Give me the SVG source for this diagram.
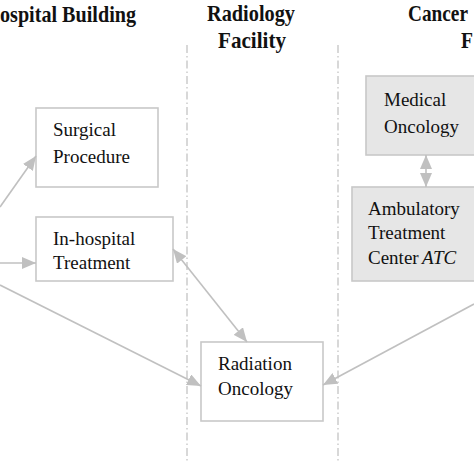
<svg xmlns="http://www.w3.org/2000/svg" width="474" height="474" viewBox="0 0 474 474">
<style>
.hdr{font-family:"Liberation Serif","Times New Roman",serif;font-weight:bold;font-size:23px;fill:#111}
.lbl{font-family:"Liberation Serif","Times New Roman",serif;font-size:19px;fill:#111}
.box{fill:#fff;stroke:#c8c8c8;stroke-width:1.6}
.gbox{fill:#e6e6e6;stroke:#c8c8c8;stroke-width:1.6}
.div{stroke:#c4c4c4;stroke-width:1.3;stroke-dasharray:8 3 1.5 3;fill:none}
.con{stroke:#c0c0c0;stroke-width:1.6;fill:none}
</style>
<defs>
<marker id="ah" viewBox="0 0 14 12" refX="14" refY="6" markerWidth="14" markerHeight="12" markerUnits="userSpaceOnUse" orient="auto-start-reverse">
<path d="M0,0 L14,6 L0,12 Z" fill="#c0c0c0"/>
</marker>
</defs>
<rect width="474" height="474" fill="#fff"/>
<g id="headers">
<text class="hdr" x="0" y="22" textLength="136" lengthAdjust="spacingAndGlyphs">ospital Building</text>
<text class="hdr" x="207" y="21" textLength="88" lengthAdjust="spacingAndGlyphs">Radiology</text>
<text class="hdr" x="218" y="48" textLength="68" lengthAdjust="spacingAndGlyphs">Facility</text>
<text class="hdr" x="408" y="21" textLength="60" lengthAdjust="spacingAndGlyphs">Cancer</text>
<text class="hdr" x="461" y="48" textLength="12" lengthAdjust="spacingAndGlyphs">F</text>
</g>
<g id="dividers">
<line class="div" x1="187" y1="45" x2="187" y2="462"/>
<line class="div" x1="338" y1="45" x2="338" y2="462"/>
</g>
<g id="surgical">
<rect class="box" x="36" y="108" width="122" height="79"/>
<text class="lbl" x="53" y="136">Surgical</text>
<text class="lbl" x="53" y="163">Procedure</text>
</g>
<g id="inhospital">
<rect class="box" x="36" y="217" width="137" height="64"/>
<text class="lbl" x="53" y="245">In-hospital</text>
<text class="lbl" x="53" y="269">Treatment</text>
</g>
<g id="radiation">
<rect class="box" x="201" y="342" width="122" height="79"/>
<text class="lbl" x="218" y="370">Radiation</text>
<text class="lbl" x="218" y="395">Oncology</text>
</g>
<g id="medical">
<rect class="gbox" x="366" y="76" width="120" height="79"/>
<text class="lbl" x="384" y="106">Medical</text>
<text class="lbl" x="384" y="133">Oncology</text>
</g>
<g id="atc">
<rect class="gbox" x="352" y="187" width="130" height="94"/>
<text class="lbl" x="368" y="215">Ambulatory</text>
<text class="lbl" x="368" y="239">Treatment</text>
<text class="lbl" x="368" y="264">Center <tspan x="422" font-style="italic">ATC</tspan></text>
</g>
<g id="connectors">
<line class="con" x1="0" y1="207" x2="36" y2="156" marker-end="url(#ah)"/>
<line class="con" x1="0" y1="263" x2="36" y2="263" marker-end="url(#ah)"/>
<line class="con" x1="0" y1="285" x2="201" y2="386" marker-end="url(#ah)"/>
<line class="con" x1="173" y1="249" x2="247" y2="342" marker-start="url(#ah)" marker-end="url(#ah)"/>
<line class="con" x1="474" y1="304" x2="323" y2="385" marker-end="url(#ah)"/>
<line class="con" x1="426" y1="155" x2="426" y2="187" marker-start="url(#ah)" marker-end="url(#ah)"/>
</g>
</svg>
